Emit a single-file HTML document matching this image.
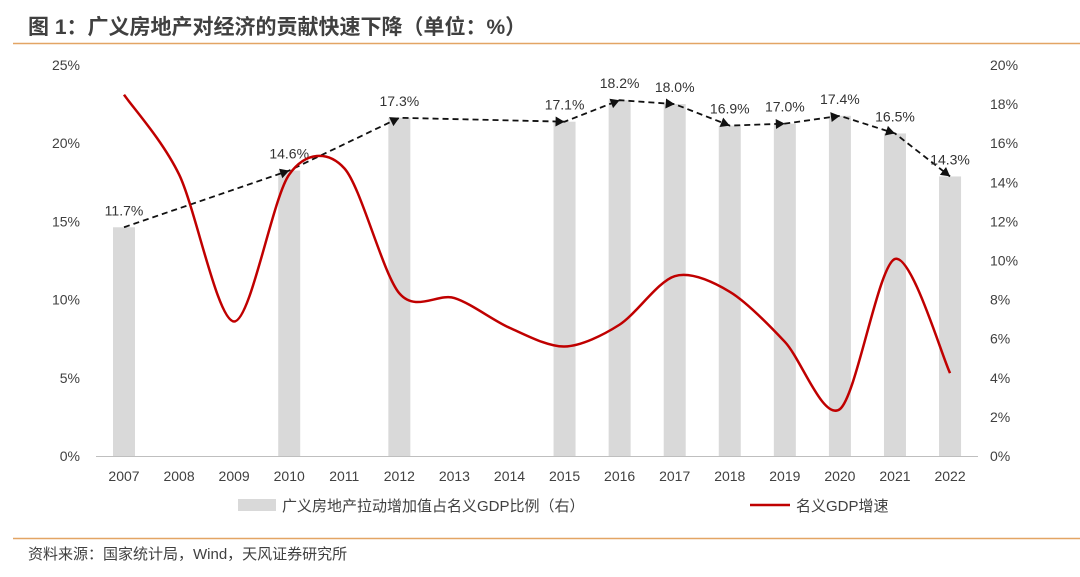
<!DOCTYPE html>
<html><head><meta charset="utf-8"><style>
body{margin:0;background:#fff;width:1080px;height:572px;overflow:hidden;font-family:"Liberation Sans","Noto Sans CJK SC",sans-serif;}
</style></head><body>
<svg id="c" width="1080" height="572" xmlns="http://www.w3.org/2000/svg" style="font-family:'Liberation Sans','Noto Sans CJK SC',sans-serif">
<text x="28" y="34" font-size="21" font-weight="bold" fill="#404040">图 1：广义房地产对经济的贡献快速下降（单位：%）</text>
<line x1="13" y1="43.5" x2="1080" y2="43.5" stroke="#e3a564" stroke-width="1.5"/>
<line x1="13" y1="538.5" x2="1080" y2="538.5" stroke="#e3a564" stroke-width="1.5"/>
<text x="28" y="559" font-size="15" fill="#404040">资料来源：国家统计局，Wind，天风证券研究所</text>
<g id="g"></g>
</svg>
<script>
const years=["2007","2008","2009","2010","2011","2012","2013","2014","2015","2016","2017","2018","2019","2020","2021","2022"];
const share=[11.7,null,null,14.6,null,17.3,null,null,17.1,18.2,18.0,16.9,17.0,17.4,16.5,14.3];
const gdp=[23.1,18.0,8.6,18.0,18.4,10.4,10.1,8.2,7.0,8.4,11.5,10.5,7.3,3.0,12.6,5.3];
const leftTicks=[0,5,10,15,20,25];
const rightTicks=[0,2,4,6,8,10,12,14,16,18,20];
const NS="http://www.w3.org/2000/svg";
const g=document.getElementById('g');
const x0=124,dx=55.07,yB=456,yT=65;
const X=i=>x0+i*dx;
const YL=v=>yB-(v/25)*(yB-yT);
const YR=v=>yB-(v/20)*(yB-yT);
function el(t,a,txt){const e=document.createElementNS(NS,t);for(const k in a)e.setAttribute(k,a[k]);if(txt!=null)e.textContent=txt;g.appendChild(e);return e;}
let e;
e=el('line',{x1:96,x2:978,y1:yB+0.5,y2:yB+0.5,stroke:'#bfbfbf'});

leftTicks.forEach(v=>{e=el('text',{x:80,y:YL(v)+5,'text-anchor':'end','font-size':14,fill:'#404040'},v+'%');
});
rightTicks.forEach(v=>{e=el('text',{x:990,y:YR(v)+5,'font-size':14,fill:'#404040'},v+'%');
});
years.forEach((y,i)=>{e=el('text',{x:X(i),y:481,'text-anchor':'middle','font-size':14,fill:'#404040'},y);
});
share.forEach((v,i)=>{if(v==null)return;
e=el('rect',{x:X(i)-11,y:YR(v),width:22,height:yB-YR(v),fill:'#d9d9d9'});
});
const pts=share.map((v,i)=>v==null?null:[X(i),YR(v)]).filter(p=>p);
e=el('polyline',{points:pts.map(p=>p.join(',')).join(' '),fill:'none',stroke:'#111','stroke-width':1.8,'stroke-dasharray':'6,4'});

for(let k=1;k<pts.length;k++){const [a,b]=[pts[k-1],pts[k]];const ang=Math.atan2(b[1]-a[1],b[0]-a[0])*180/Math.PI;
e=el('path',{d:'M0,0 L-9,-5 L-9,5 Z',fill:'#111',transform:`translate(${b[0]},${b[1]}) rotate(${ang})`});
}
share.forEach((v,i)=>{if(v==null)return;
e=el('text',{x:X(i),y:YR(v)-12,'text-anchor':'middle','font-size':14,fill:'#333'},v.toFixed(1)+'%');
});
const gp=gdp.map((v,i)=>[X(i),YL(v)]);
let d='M'+gp[0].join(',');
for(let i=0;i<gp.length-1;i++){const p0=gp[Math.max(0,i-1)],p1=gp[i],p2=gp[i+1],p3=gp[Math.min(gp.length-1,i+2)];
const t=0.15;d+=` C${p1[0]+(p2[0]-p0[0])*t},${p1[1]+(p2[1]-p0[1])*t} ${p2[0]-(p3[0]-p1[0])*t},${p2[1]-(p3[1]-p1[1])*t} ${p2[0]},${p2[1]}`;}
e=el('path',{d:d,fill:'none',stroke:'#c00000','stroke-width':2.5});

e=el('rect',{x:238,y:499,width:38,height:12,fill:'#d9d9d9'});

e=el('text',{x:282,y:511,'font-size':15,fill:'#404040'},'广义房地产拉动增加值占名义GDP比例（右）');

e=el('line',{x1:750,x2:790,y1:505,y2:505,stroke:'#c00000','stroke-width':2.5});

e=el('text',{x:796,y:511,'font-size':15,fill:'#404040'},'名义GDP增速');

</script>
</body></html>
